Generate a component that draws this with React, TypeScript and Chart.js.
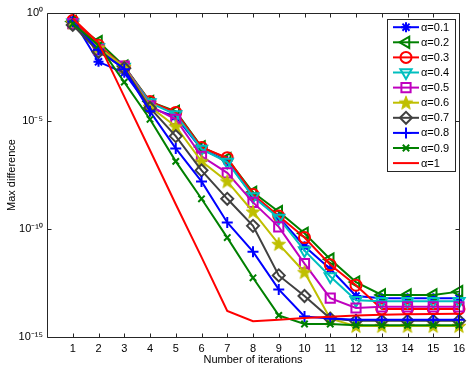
import React, { useEffect, useRef } from 'react';
import { Chart, registerables } from 'chart.js';
import { drawPoint } from 'chart.js/helpers';

Chart.register(...registerables);

const iterations = [1, 2, 3, 4, 5, 6, 7, 8, 9, 10, 11, 12, 13, 14, 15, 16];
const seriesLabels = ['α=0.1', 'α=0.2', 'α=0.3', 'α=0.4', 'α=0.5', 'α=0.6', 'α=0.7', 'α=0.8', 'α=0.9', 'α=1'];

const alpha01 = [5e-1, 5.5e-3, 1.7e-3, 4e-5, 1.6e-5, 5e-7, 1.4e-7, 3.2e-9, 3.5e-10, 1.6e-11, 1.4e-12, 7.9e-14, 6.3e-14, 6.3e-14, 6.3e-14, 6.3e-14];
const alpha02 = [4e-1, 4.7e-2, 3.5e-3, 7.9e-5, 2.8e-5, 6.3e-7, 1.8e-7, 5e-9, 6.3e-10, 6.3e-11, 4e-12, 3.5e-13, 8.9e-14, 8.9e-14, 8.9e-14, 1.26e-13];
const alpha03 = [4.5e-1, 3.2e-2, 3.2e-3, 7.9e-5, 2.5e-5, 6e-7, 2e-7, 4e-9, 4e-10, 4e-11, 2.2e-12, 2.5e-13, 2e-14, 2e-14, 2e-14, 2e-14];
const alpha04 = [3.5e-1, 2.5e-2, 3.2e-3, 7.1e-5, 2e-5, 5e-7, 1.26e-7, 3.2e-9, 3.2e-10, 1e-11, 6.3e-13, 5e-14, 4.5e-14, 4.5e-14, 4.5e-14, 4.5e-14];
const alpha05 = [3.2e-1, 2e-2, 3.5e-3, 5e-5, 1.2e-5, 2.3e-7, 4e-8, 1.7e-9, 1.26e-10, 2.5e-12, 6.3e-14, 2.2e-14, 2.5e-14, 2.5e-14, 2.5e-14, 2.5e-14];
const alpha06 = [3.5e-1, 2.5e-2, 3.2e-3, 4.5e-5, 5.6e-6, 1.35e-7, 1.6e-8, 6.3e-10, 2e-11, 1e-12, 7.1e-15, 3.2e-15, 3.2e-15, 3.2e-15, 3.2e-15, 3.2e-15];
const alpha07 = [2.8e-1, 1.6e-2, 2.8e-3, 4e-5, 2e-6, 5.2e-8, 2.5e-9, 1.4e-10, 7.1e-13, 7.9e-14, 7.1e-15, 5.6e-15, 5.6e-15, 5.6e-15, 5.6e-15, 5.6e-15];
const alpha08 = [4e-1, 2e-2, 2.5e-3, 2.8e-5, 5.4e-7, 1.6e-8, 2e-10, 8.9e-12, 1.6e-13, 8.9e-15, 7.1e-15, 6.3e-15, 6.3e-15, 6.3e-15, 6.3e-15, 6.3e-15];
const alpha09 = [3.2e-1, 3.2e-2, 6.3e-4, 1.2e-5, 1.35e-7, 2.5e-9, 4e-11, 5.5e-13, 1e-14, 4e-15, 4e-15, 3.5e-15, 3.5e-15, 3.5e-15, 3.5e-15, 3.5e-15];
const alpha10 = [5.6e-1, 4.2e-2, 1.35e-4, 4.4e-7, 1.4e-9, 5e-12, 1.6e-14, 5.4e-15, 6.3e-15, 7.6e-15, 8.7e-15, 1e-14, 1.07e-14, 1.12e-14, 1.17e-14, 1.2e-14];

const yTickValues = [1, 1e-5, 1e-10, 1e-15];
const yTickLabels = ['10⁰', '10⁻⁵', '10⁻¹⁰', '10⁻¹⁵'];
const xTickValues = iterations;

const FONT = "'Liberation Sans', Arial, Helvetica, sans-serif";

function makePentagram(color: string) {
  const c = document.createElement('canvas');
  c.width = 16;
  c.height = 16;
  const g = c.getContext('2d')!;
  const cx = 8, cy = 8.5, ro = 7.2, ri = 3;
  g.beginPath();
  for (let k = 0; k < 10; k++) {
    const r = k % 2 === 0 ? ro : ri;
    const a = -Math.PI / 2 + (k * Math.PI) / 5;
    const px = cx + r * Math.cos(a);
    const py = cy + r * Math.sin(a);
    if (k === 0) g.moveTo(px, py); else g.lineTo(px, py);
  }
  g.closePath();
  g.fillStyle = color;
  g.fill();
  g.strokeStyle = color;
  g.lineWidth = 1;
  g.stroke();
  return c;
}

export default function App() {
  const ref = useRef<HTMLCanvasElement | null>(null);

  useEffect(() => {
    document.body.style.margin = '0';
    const canvas = ref.current;
    if (!canvas) return;
    Chart.defaults.font.family = FONT;
    Chart.defaults.color = '#000';

    const pent = makePentagram('#bfbf00');
    const seriesData = [alpha01, alpha02, alpha03, alpha04, alpha05, alpha06, alpha07, alpha08, alpha09, alpha10];
    const colors = ['#0000ff', '#008000', '#ff0000', '#00bfbf', '#bf00bf', '#bfbf00', '#404040', '#0000ff', '#008000', '#ff0000'];
    const styles: any[] = [
      { pointStyle: 'star', rotation: 0, radius: 5 },
      { pointStyle: 'triangle', rotation: -90, radius: 6.5 },
      { pointStyle: 'circle', rotation: 0, radius: 5.5 },
      { pointStyle: 'triangle', rotation: 180, radius: 6.5 },
      { pointStyle: 'rect', rotation: 0, radius: 6.5 },
      { pointStyle: pent, rotation: 0, radius: 7 },
      { pointStyle: 'rectRot', rotation: 0, radius: 6 },
      { pointStyle: 'cross', rotation: 0, radius: 5.5 },
      { pointStyle: 'crossRot', rotation: 0, radius: 4.5 },
      { pointStyle: 'circle', rotation: 0, radius: 0 },
    ];

    const datasets = seriesData.map((d, i) => ({
      label: seriesLabels[i],
      data: iterations.map((x, j) => ({ x, y: d[j] })),
      borderColor: colors[i],
      backgroundColor: colors[i],
      borderWidth: 2,
      pointStyle: styles[i].pointStyle,
      pointRotation: styles[i].rotation,
      pointRadius: styles[i].radius,
      pointBorderWidth: 2,
      pointBorderColor: colors[i],
      pointBackgroundColor: 'rgba(0,0,0,0)',
      tension: 0,
      clip: false as any,
      order: -i,
    }));

    const framePlugin = {
      id: 'frame',
      afterDraw(chart: any) {
        const { ctx, chartArea: a, scales } = chart;
        ctx.save();
        ctx.strokeStyle = '#262626';
        ctx.lineWidth = 1;
        const L = Math.round(a.left) + 0.5, R = Math.round(a.right) + 0.5;
        const T = Math.round(a.top) + 0.5, B = Math.round(a.bottom) + 0.5;
        ctx.beginPath();
        ctx.rect(L, T, R - L, B - T);
        const tl = 4;
        xTickValues.forEach((v) => {
          const px = Math.round(scales.x.getPixelForValue(v)) + 0.5;
          ctx.moveTo(px, B); ctx.lineTo(px, B - tl);
          ctx.moveTo(px, T); ctx.lineTo(px, T + tl);
        });
        yTickValues.forEach((v) => {
          const py = Math.round(scales.y.getPixelForValue(v)) + 0.5;
          ctx.moveTo(L, py); ctx.lineTo(L + tl, py);
          ctx.moveTo(R, py); ctx.lineTo(R - tl, py);
        });
        ctx.stroke();

        // legend
        const lw = 68, lh = 152;
        const lx = Math.round(a.right) - 4 - lw + 0.5;
        const ly = Math.round(a.top) + 6 + 0.5;
        ctx.fillStyle = '#fff';
        ctx.fillRect(lx, ly, lw, lh);
        ctx.strokeStyle = '#262626';
        ctx.strokeRect(lx, ly, lw, lh);
        ctx.font = `11px ${FONT}`;
        ctx.textBaseline = 'middle';
        ctx.textAlign = 'left';
        for (let i = 0; i < seriesLabels.length; i++) {
          const yy = ly + 7.7 + i * 15.1;
          const x1 = lx + 5.5, x2 = lx + 31.5, xm = (x1 + x2) / 2;
          ctx.strokeStyle = colors[i];
          ctx.lineWidth = 2;
          ctx.beginPath();
          ctx.moveTo(x1, yy); ctx.lineTo(x2, yy);
          ctx.stroke();
          if (styles[i].radius > 0) {
            ctx.fillStyle = 'rgba(0,0,0,0)';
            ctx.strokeStyle = colors[i];
            ctx.lineWidth = 2;
            drawPoint(ctx, { pointStyle: styles[i].pointStyle, rotation: styles[i].rotation, radius: styles[i].radius, borderWidth: 2 } as any, xm, yy);
          }
          ctx.fillStyle = '#000';
          ctx.fillText(seriesLabels[i], x2 + 2, yy + 0.5);
        }
        ctx.restore();
      },
    };

    const chart = new Chart(canvas, {
      type: 'line',
      data: { datasets: datasets as any },
      options: {
        responsive: false,
        animation: false,
        events: [],
        layout: { padding: { left: 0, right: 15, top: 13, bottom: 0 } },
        plugins: { legend: { display: false }, tooltip: { enabled: false } },
        scales: {
          x: {
            type: 'linear',
            min: 0,
            max: 16,
            grid: { display: false, drawTicks: false },
            border: { display: false },
            afterBuildTicks: (s: any) => { s.ticks = xTickValues.map((v) => ({ value: v })); },
            afterFit: (s: any) => { s.height = 31; },
            ticks: {
              padding: 5,
              autoSkip: false,
              maxRotation: 0,
              font: { size: 11, family: FONT },
              color: '#000',
              callback: (v: any) => String(v),
            },
            title: {
              display: true,
              text: 'Number of iterations',
              font: { size: 11, family: FONT },
              color: '#000',
              padding: { top: 0, bottom: 1 },
            },
          },
          y: {
            type: 'logarithmic',
            min: 1e-15,
            max: 1,
            grid: { display: false, drawTicks: false },
            border: { display: false },
            afterBuildTicks: (s: any) => { s.ticks = yTickValues.map((v) => ({ value: v })); },
            afterFit: (s: any) => { s.width = 47; },
            ticks: {
              padding: 4,
              autoSkip: false,
              font: { size: 11, family: FONT },
              color: '#000',
              callback: (v: any) => {
                const idx = yTickValues.findIndex((t) => Math.abs(Math.log10(t) - Math.log10(v)) < 1e-6);
                return idx >= 0 ? yTickLabels[idx] : '';
              },
            },
            title: {
              display: true,
              text: 'Max difference',
              font: { size: 11, family: FONT },
              color: '#000',
              padding: { top: 5, bottom: 0 },
            },
          },
        },
      },
      plugins: [framePlugin],
    });
    return () => chart.destroy();
  }, []);

  return (
    <div style={{ width: 474, height: 368 }}>
      <canvas ref={ref} width={474} height={368} style={{ display: 'block' }} />
    </div>
  );
}
